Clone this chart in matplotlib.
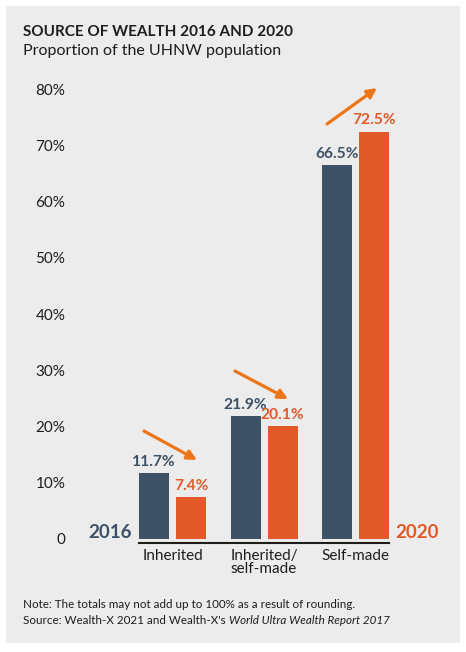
import matplotlib
matplotlib.use("Agg")
import matplotlib.pyplot as plt
import matplotlib.patches as mpatches
import numpy as np

plt.rcParams['font.family'] = ['Lato', 'DejaVu Sans']

# data
kategorier = ["Inherited", "Inherited/\nself-made", "Self-made"]
aar_2016 = [11.7, 21.9, 66.5]
aar_2020 = [7.4, 20.1, 72.5]
y_ticks = [0, 10, 20, 30, 40, 50, 60, 70, 80]
y_labels = ["0", "10%", "20%", "30%", "40%", "50%", "60%", "70%", "80%"]

blaa = "#3d5167"
oransje = "#e2592a"
pil_farge = "#ec7518"
svart = "#1d1d1b"
bakgrunn = "#ececec"

W, H = 466, 652
fig = plt.figure(figsize=(W / 100, H / 100), dpi=100, facecolor="white")
fig.patches.append(mpatches.Rectangle((6 / W, 1 - 643 / H), 454 / W, 637 / H,
                                      transform=fig.transFigure, facecolor=bakgrunn,
                                      edgecolor="none", zorder=-5))

# axes placed in pixel terms
px_left, px_right = 100, 420
px_bunn, px_topp = 539, 89.4
ax = fig.add_axes([px_left / W, 1 - px_bunn / H,
                   (px_right - px_left) / W, (px_bunn - px_topp) / H])
ax.set_facecolor("none")
ax.set_zorder(2)

gruppe_px = 91.5
x0_px = 172.5
ax.set_xlim((px_left - x0_px) / gruppe_px, (px_right - x0_px) / gruppe_px)
ax.set_ylim(0, 80)

x = np.arange(len(kategorier))
bredde = 30 / gruppe_px
off = 18.5 / gruppe_px

b1 = ax.bar(x - off, aar_2016, bredde, color=blaa, zorder=2)
b2 = ax.bar(x + off, aar_2020, bredde, color=oransje, zorder=2)

for bar, v in zip(b1, aar_2016):
    ax.annotate(f"{v}%", (bar.get_x() + bar.get_width() / 2, v), xytext=(0, 3),
                textcoords="offset points", ha="center", va="bottom",
                fontsize=11.2, fontweight="bold", color=blaa)
for bar, v in zip(b2, aar_2020):
    ax.annotate(f"{v}%", (bar.get_x() + bar.get_width() / 2, v), xytext=(0, 3),
                textcoords="offset points", ha="center", va="bottom",
                fontsize=11.2, fontweight="bold", color=oransje)

# arrows
def px2data(px, py):
    return ((px - x0_px) / gruppe_px, (px_bunn - py) / ((px_bunn - px_topp) / 80))

piler = [((144, 431), (197, 460)), ((235, 371), (288, 399)), ((327, 124), (377, 88))]
for start, slutt in piler:
    ax.annotate("", xy=px2data(*slutt), xytext=px2data(*start),
                arrowprops=dict(arrowstyle="-|>", lw=2.3, color=pil_farge,
                                mutation_scale=14, shrinkA=0, shrinkB=0),
                annotation_clip=False)

# year labels
ax.text(*px2data(132, 532), "2016", ha="right", va="center", fontsize=13.5,
        fontweight="bold", color=blaa)
ax.text(*px2data(395, 532), "2020", ha="left", va="center", fontsize=13.5,
        fontweight="bold", color=oransje)

# spines / ticks
for s in ["top", "right", "left"]:
    ax.spines[s].set_visible(False)
ax.spines["bottom"].set_position(("outward", 3))
ax.spines["bottom"].set_bounds(x[0] - off - bredde / 2, x[-1] + off + bredde / 2)
ax.spines["bottom"].set_linewidth(1.5)
ax.spines["bottom"].set_color(svart)

ax.set_xticks(x)
ax.set_xticklabels(kategorier, fontsize=11, color=svart, linespacing=0.95)
ax.set_yticks(y_ticks)
ax.set_yticklabels(y_labels, fontsize=11, color=svart)
ax.tick_params(axis="both", length=0)
ax.tick_params(axis="x", pad=4)
ax.tick_params(axis="y", pad=25)

# titles
fig.text(23 / W, 1 - 32 / H, "SOURCE OF WEALTH 2016 AND 2020", fontsize=11,
         fontweight="bold", color=svart, va="center", ha="left")
fig.text(23 / W, 1 - 51 / H, "Proportion of the UHNW population", fontsize=11.5,
         color=svart, va="center", ha="left")

# footer
fig.text(23 / W, 1 - 604 / H, "Note: The totals may not add up to 100% as a result of rounding.",
         fontsize=8.4, color=svart, va="center", ha="left")
kilde = fig.text(23 / W, 1 - 621 / H, "Source: Wealth-X 2021 and Wealth-X's ",
                 fontsize=8.4, color=svart, va="center", ha="left")
fig.canvas.draw()
ax.annotate("World Ultra Wealth Report 2017", xy=(1, 0.5), xycoords=kilde,
            va="center", ha="left", fontsize=8.4, style="italic", color=svart,
            annotation_clip=False)

fig.savefig("out.png", dpi=100, facecolor="white")
